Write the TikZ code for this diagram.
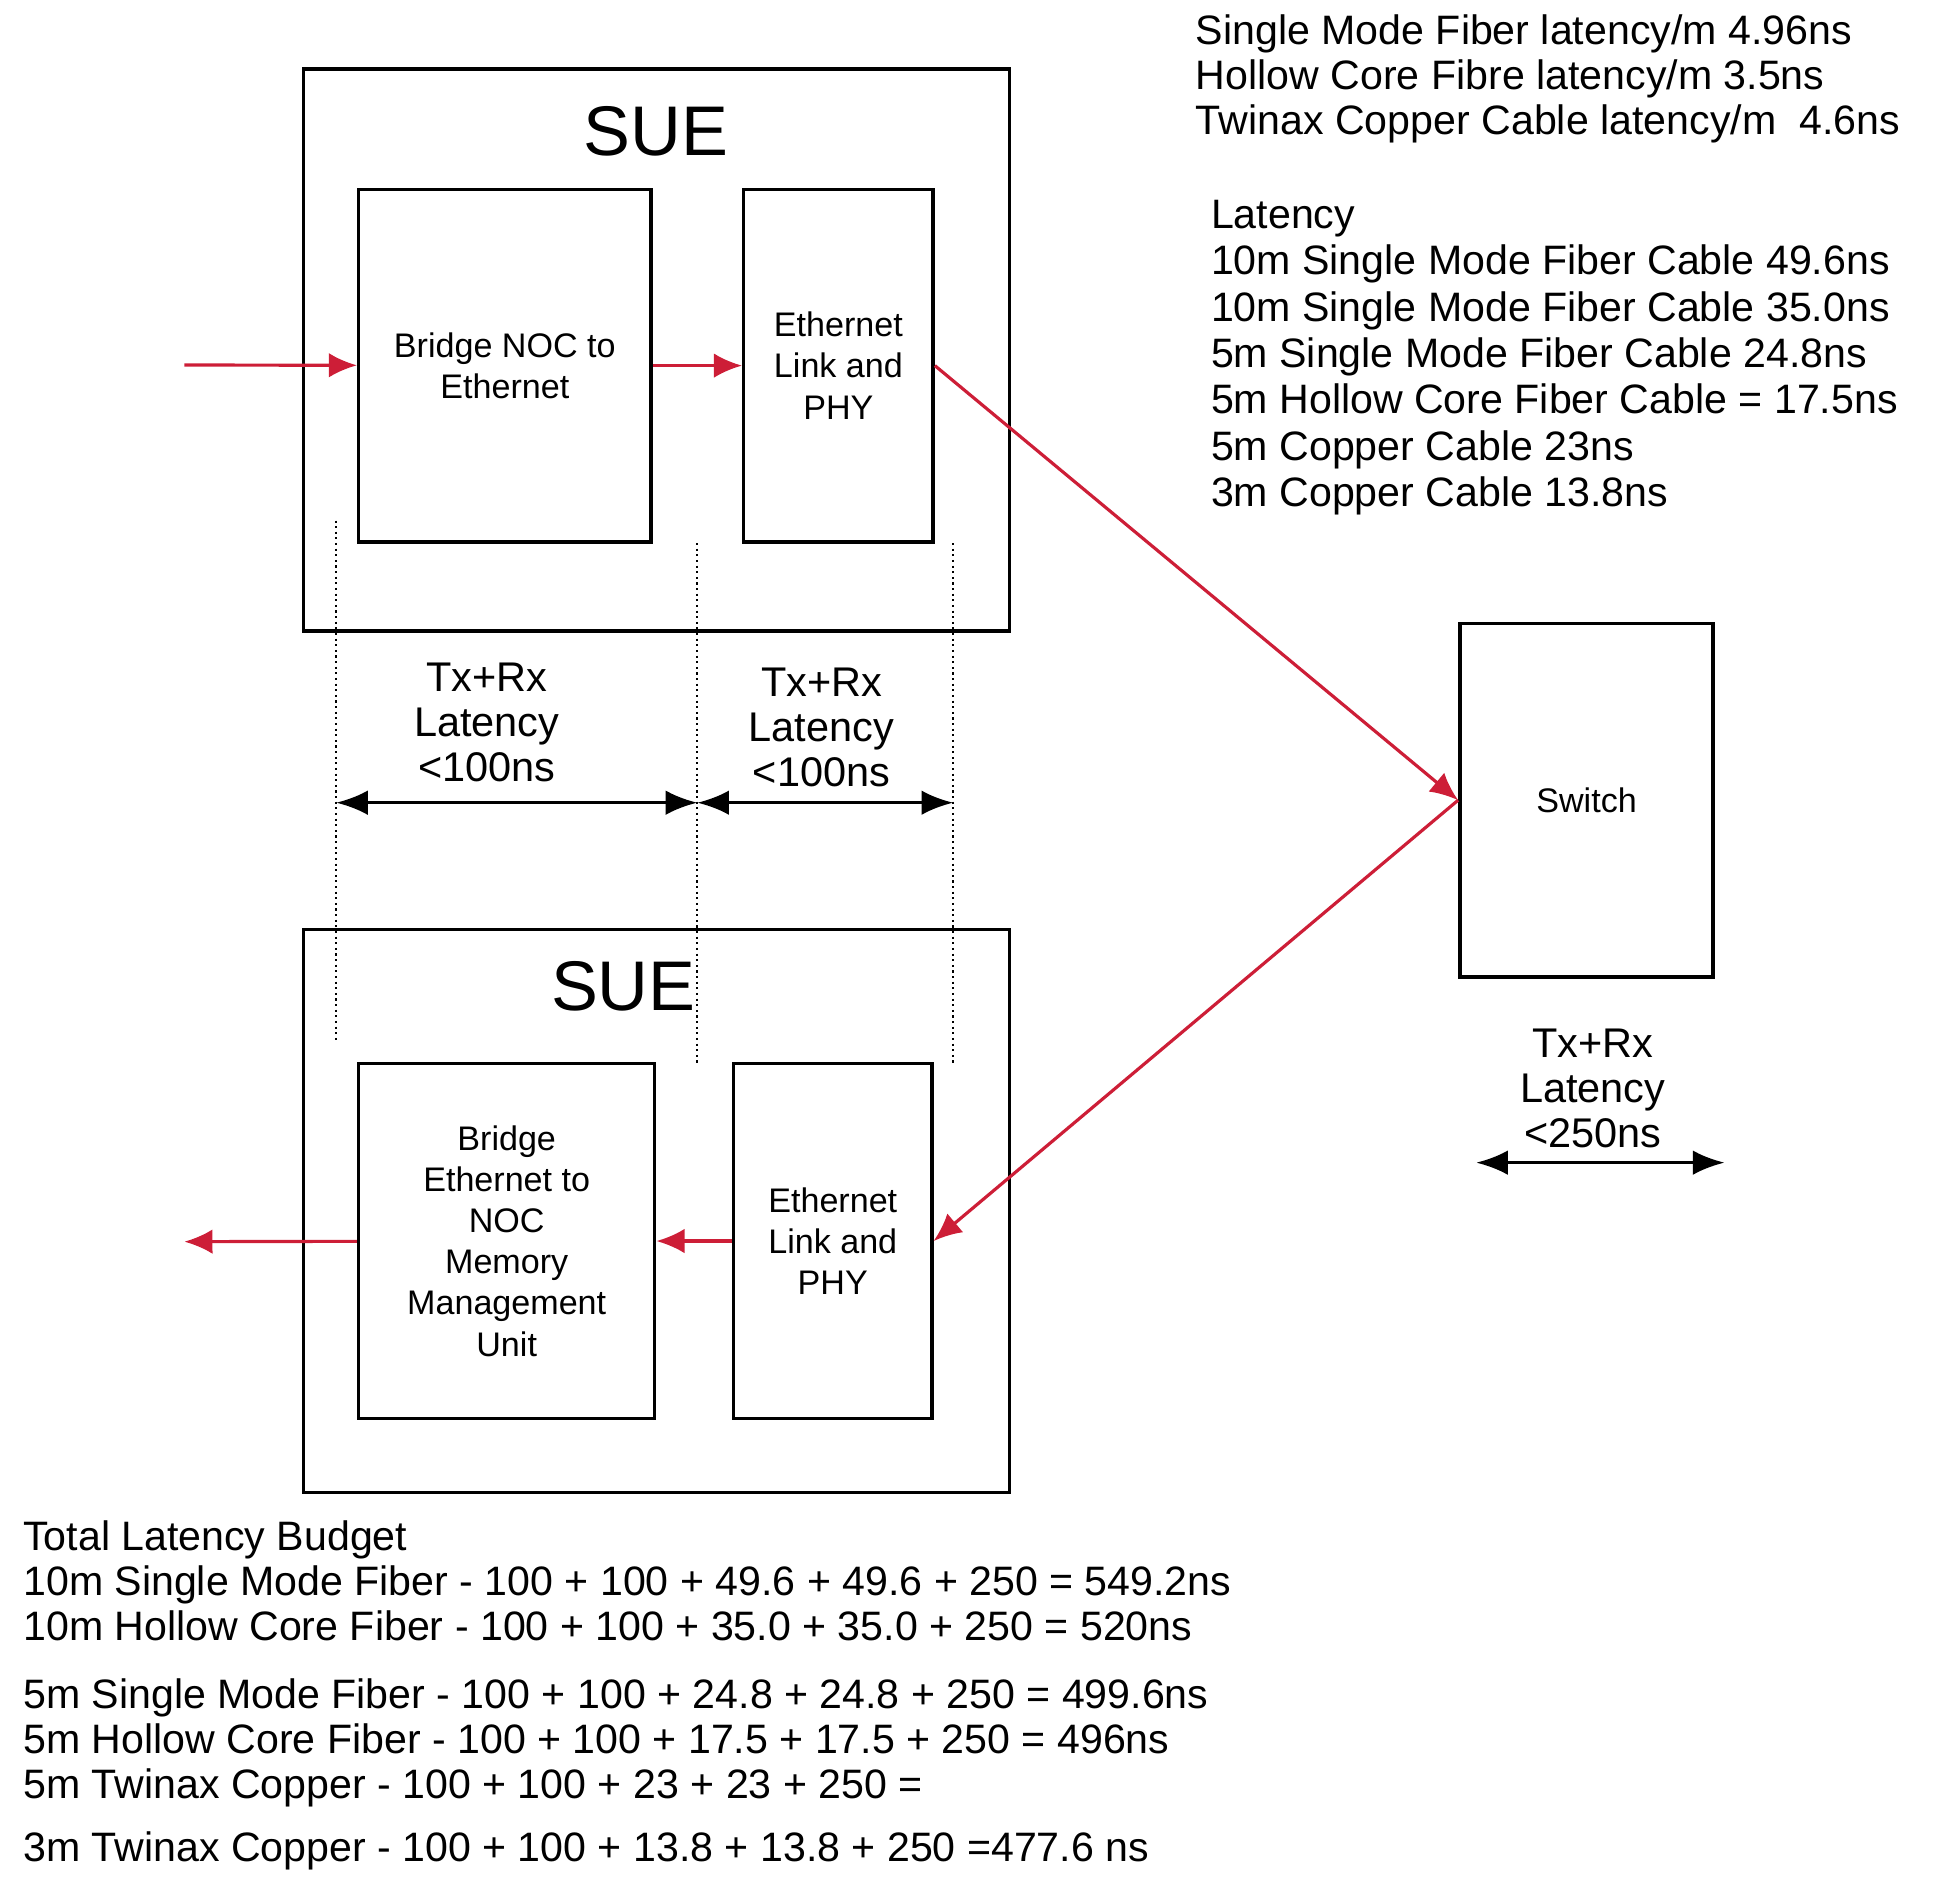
\documentclass[tikz,border=0pt]{standalone}
\usepackage{fontspec}
\setmainfont{Liberation Sans}
\usetikzlibrary{arrows.meta}
\definecolor{linkred}{RGB}{205,30,55}
\begin{document}
\begin{tikzpicture}[x=0.01254cm,y=-0.01254cm,
  blk/.style={draw,line width=1pt,inner sep=0pt,align=center,font=\fontsize{9.7}{11.7}\selectfont},
  link/.style={draw=linkred,line width=0.9pt,-{Latex[length=8pt,width=7pt]}},
  span/.style={line width=1pt,{Latex[length=9pt,width=7pt]}-{Latex[length=9pt,width=7pt]}},
  guide/.style={densely dotted,line width=0.6pt},
  lbl/.style={align=center,font=\fontsize{11.8}{12.8}\selectfont,inner sep=0pt},
  note/.style={anchor=north west,align=left,inner sep=0pt,font=\fontsize{11.7}{12.8}\selectfont}]
\useasboundingbox (0,0) rectangle (1550,1496);
% upper SUE
\node[blk,minimum width=563*0.01254cm,minimum height=448*0.01254cm] (sueA) at (523.5,279) {};
\node[font=\fontsize{20}{22}\selectfont] (sueAt) at (523,105) {SUE};
\node[blk,minimum width=233*0.01254cm,minimum height=281*0.01254cm] (brA) at (402.5,291.5) {Bridge NOC to\\Ethernet};
\node[blk,minimum width=151*0.01254cm,minimum height=281*0.01254cm] (ethA) at (668.5,291.5) {Ethernet\\Link and\\PHY};
\coordinate (inA) at (147,291);
% lower SUE
\node[blk,minimum width=563*0.01254cm,minimum height=449*0.01254cm] (sueB) at (523.5,965.5) {};
\node[font=\fontsize{20}{22}\selectfont] (sueBt) at (497,786) {SUE};
\node[blk,minimum width=236*0.01254cm,minimum height=283*0.01254cm] (brB) at (404,989.5) {Bridge\\Ethernet to\\NOC\\Memory\\Management\\Unit};
\node[blk,minimum width=158*0.01254cm,minimum height=283*0.01254cm] (ethB) at (664,989.5) {Ethernet\\Link and\\PHY};
\coordinate (outB) at (147,990);
% switch
\node[blk,minimum width=202*0.01254cm,minimum height=282*0.01254cm] (sw) at (1265,638) {Switch};
% red links
\draw[link] (inA) -- (brA);
\draw[link] (brA) -- (ethA);
\draw[link] (ethA.east) -- (sw.west);
\draw[link] (sw.west) -- (ethB.east);
\draw[link] (ethB) -- (brB);
\draw[link] (brB) -- (outB);
% latency spans
\coordinate (g1) at (268,640); \coordinate (g2) at (556,640); \coordinate (g3) at (760,640);
\draw[guide] (268,415) -- (268,830);
\draw[guide] (556,433) -- (556,848);
\draw[guide] (760,433) -- (760,848);
\draw[span] (g1) -- (g2);
\draw[span] (g2) -- (g3);
\node[lbl] (latA) at (388,576) {Tx+Rx\\Latency\\<100ns};
\node[lbl] (latB) at (655,580) {Tx+Rx\\Latency\\<100ns};
\coordinate (s1) at (1177,927); \coordinate (s2) at (1375,927);
\draw[span] (s1) -- (s2);
\node[lbl] (latS) at (1270,868) {Tx+Rx\\Latency\\<250ns};
% notes
\node[note] (perm) at (953,11) {Single Mode Fiber latency/m 4.96ns\\Hollow Core Fibre latency/m 3.5ns\\Twinax Copper Cable latency/m\ \ 4.6ns};
\node[note,font=\fontsize{11.7}{13.2}\selectfont] (cab) at (965,159) {Latency\\10m Single Mode Fiber Cable 49.6ns\\10m Single Mode Fiber Cable 35.0ns\\5m Single Mode Fiber Cable 24.8ns\\5m Hollow Core Fiber Cable = 17.5ns\\5m Copper Cable 23ns\\3m Copper Cable 13.8ns};
\node[note] (tot) at (18,1212) {Total Latency Budget\\10m Single Mode Fiber - 100 + 100 + 49.6 + 49.6 + 250 = 549.2ns\\10m Hollow Core Fiber - 100 + 100 + 35.0 + 35.0 + 250 = 520ns};
\node[note] (tot5) at (18,1338) {5m Single Mode Fiber - 100 + 100 + 24.8 + 24.8 + 250 = 499.6ns\\5m Hollow Core Fiber - 100 + 100 + 17.5 + 17.5 + 250 = 496ns\\5m Twinax Copper - 100 + 100 + 23 + 23 + 250 =};
\node[note] (tot3) at (18,1460) {3m Twinax Copper - 100 + 100 + 13.8 + 13.8 + 250 =477.6 ns};
\end{tikzpicture}
\end{document}
